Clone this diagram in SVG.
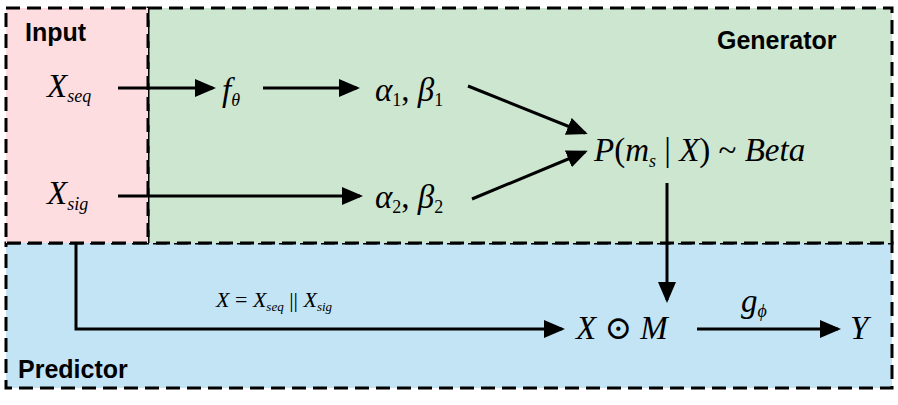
<svg xmlns="http://www.w3.org/2000/svg" width="898" height="405" viewBox="0 0 898 405">
<style>
.box{stroke:#000;stroke-width:3;stroke-dasharray:14,7}
.m{font-family:"Liberation Serif","Times New Roman","DejaVu Serif",serif;font-style:italic;font-size:33px;fill:#000}
.s{font-size:18px}
.n{font-style:normal}
.lbl{font-family:"Liberation Sans",Arial,sans-serif;font-weight:bold;font-size:25px;fill:#000}
.c{stroke:#000;stroke-width:3;fill:none;marker-end:url(#ah)}
</style>
<defs><marker id="ah" markerWidth="7" markerHeight="6" refX="6" refY="3" orient="auto" markerUnits="strokeWidth"><path d="M0,0L7,3L0,6z" fill="#000"/></marker></defs>
<g id="predictor"><rect x="6" y="243" width="886" height="145" fill="#c2e4f5" class="box"/><text x="18" y="378" class="lbl">Predictor</text></g>
<g id="generator"><rect x="148" y="8" width="744" height="235" fill="#cce6d0" class="box"/><text x="717" y="49" class="lbl">Generator</text></g>
<g id="input"><rect x="6" y="8" width="142" height="235" fill="#fddde0" class="box"/><text x="25" y="41" class="lbl">Input</text></g>
<g id="xseq"><text x="47" y="97" class="m">X<tspan class="s" dy="5">seq</tspan></text></g>
<g id="xsig"><text x="47" y="204" class="m">X<tspan class="s" dy="6">sig</tspan></text></g>
<g id="ftheta"><text x="222" y="101" class="m">f<tspan class="s" dy="5">θ</tspan></text></g>
<g id="ab1"><text x="375" y="101" class="m">α<tspan class="s n" dy="5">1</tspan><tspan class="n" dy="-5">, </tspan><tspan>β</tspan><tspan class="s n" dy="5">1</tspan></text></g>
<g id="ab2"><text x="375" y="208" class="m">α<tspan class="s n" dy="5">2</tspan><tspan class="n" dy="-5">, </tspan><tspan>β</tspan><tspan class="s n" dy="5">2</tspan></text></g>
<g id="pm"><text x="594" y="161" class="m">P<tspan class="n">(</tspan>m<tspan class="s" dy="6">s</tspan><tspan class="n" dy="-6"> | </tspan>X<tspan class="n">) ~ </tspan>Beta</text></g>
<g id="xm"><text x="576" y="339" class="m">X <tspan class="n">⊙</tspan> M</text></g>
<g id="y"><text x="850" y="339" class="m">Y</text></g>
<text x="216" y="307" class="m" style="font-size:22px">X <tspan class="n">=</tspan> X<tspan class="s" style="font-size:13px" dy="4">seq</tspan><tspan class="n" dy="-4"> || </tspan>X<tspan class="s" style="font-size:13px" dy="4">sig</tspan></text>
<text x="741" y="312" class="m">g<tspan class="s" dy="5">ϕ</tspan></text>
<g id="connectors">
<path d="M118,88H213" class="c"/>
<path d="M263,88H357" class="c"/>
<path d="M118,196H360" class="c"/>
<path d="M468,86L585,133" class="c"/>
<path d="M472,199L585,152" class="c"/>
<path d="M667,183V300" class="c"/>
<path d="M76,243V329H562" class="c"/>
<path d="M697,329H838" class="c"/>
</g>
</svg>
